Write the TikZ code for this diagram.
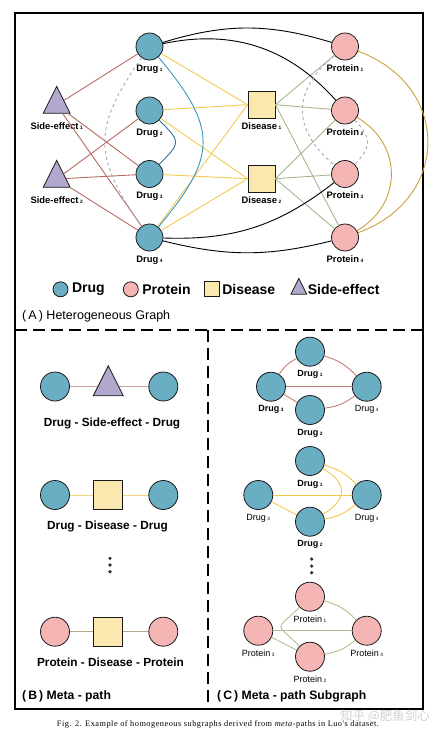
\documentclass[tikz,border=0pt]{standalone}
\usepackage{fontspec}
\setsansfont{Liberation Sans}
\newfontfamily\capfont[LetterSpace=6]{Liberation Serif}
\newfontfamily\cjkfont{Noto Sans CJK SC}
\usetikzlibrary{shapes.geometric,positioning}
\definecolor{drugC}{HTML}{6AAEC3}
\definecolor{protC}{HTML}{F5B5B4}
\definecolor{disC}{HTML}{FBE8AE}
\definecolor{seC}{HTML}{B2A7CC}
\definecolor{seE}{HTML}{B86A62}
\definecolor{ddE}{HTML}{F1CA50}
\definecolor{dpE}{HTML}{A9B48E}
\definecolor{bluE}{HTML}{3A98C0}
\definecolor{bluE2}{HTML}{2E7394}
\definecolor{gldE}{HTML}{C9A23C}
\definecolor{dshE}{HTML}{A6A8B8}
\definecolor{mpA}{HTML}{D0A29A}
\definecolor{mpB}{HTML}{F2D27A}
\definecolor{mpC}{HTML}{B5A985}
\definecolor{sgA}{HTML}{C47E7A}
\definecolor{sgB}{HTML}{EFC94C}
\definecolor{sgC}{HTML}{B2BE90}
\newcommand{\idx}[1]{\,{\fontsize{4.8}{5}\selectfont #1}}
\tikzset{
  drug/.style={circle,draw=black!90,fill=drugC,line width=0.8pt,minimum size=27pt,inner sep=0pt},
  prot/.style={drug,fill=protC},
  dis/.style={rectangle,draw=black!90,fill=disC,line width=0.8pt,minimum size=27pt,inner sep=0pt},
  se/.style={isosceles triangle,isosceles triangle stretches,shape border rotate=90,
    minimum width=27pt,minimum height=27pt,inner sep=0pt,draw=black!90,fill=seC,line width=0.8pt},
  mdrug/.style={drug,minimum size=29pt},
  mprot/.style={prot,minimum size=29pt},
  mdis/.style={dis,minimum size=29pt},
  mse/.style={se,minimum width=30pt,minimum height=30pt},
  lbl/.style={font=\sffamily\bfseries\fontsize{9.4}{10}\selectfont,inner sep=1pt},
  slbl/.style={font=\sffamily\bfseries\fontsize{9}{10}\selectfont,inner sep=1pt},
  rlbl/.style={font=\sffamily\fontsize{9}{10}\selectfont,inner sep=1pt},
  key/.style={font=\sffamily\bfseries\fontsize{14}{14}\selectfont,inner sep=0pt},
  mp/.style={font=\sffamily\bfseries\fontsize{11.8}{12}\selectfont,inner sep=0pt},
  ttl/.style={font=\sffamily\bfseries\fontsize{12.2}{13}\selectfont,inner sep=0pt,anchor=west},
  sep/.style={line width=2pt,dash pattern=on 11.5pt off 6.5pt},
  edge/.style={line width=0.9pt},
}

\begin{document}
\begin{tikzpicture}[x=1pt,y=1pt,label distance=3pt]
\useasboundingbox (0,0) rectangle (445,-737);
% frame
\draw[line width=2pt] (15,-12.7) rectangle (422.7,-708.5);
\draw[sep] (15,-330) -- (422.7,-330);
\draw[sep] (207.5,-330) -- (207.5,-708.5);

% (A) heterogeneous graph
\node[drug,label={[lbl]below:Drug\idx1}] (d1) at (149.5,-46.5) {};
\node[drug,label={[lbl]below:Drug\idx2}] (d2) at (149.5,-110.5) {};
\node[drug,label={[lbl]below:Drug\idx3}] (d3) at (149.5,-174) {};
\node[drug,label={[lbl]below:Drug\idx4}] (d4) at (149.5,-237.5) {};
\node[se,label={[lbl,label distance=8pt]below:Side-effect\idx1}] (s1) at (56.7,-105) {};
\node[se,label={[lbl,label distance=8pt]below:Side-effect\idx2}] (s2) at (56.7,-179) {};
\node[dis,label={[lbl]below:Disease\idx1}] (ds1) at (261.5,-104.7) {};
\node[dis,label={[lbl]below:Disease\idx2}] (ds2) at (261.5,-178.7) {};
\node[prot,label={[lbl]below:Protein\idx1}] (p1) at (345,-46.5) {};
\node[prot,label={[lbl]below:Protein\idx2}] (p2) at (345,-110.5) {};
\node[prot,label={[lbl]below:Protein\idx3}] (p3) at (345,-174) {};
\node[prot,label={[lbl]below:Protein\idx4}] (p4) at (345,-237.5) {};

\foreach \a/\b in {s1/d1,s1/d3,s1/d4,s2/d2,s2/d3,s2/d4}
  \draw[edge,seE] (\a) -- (\b);
\foreach \a/\b in {d1/ds1,d2/ds1,d2/ds2,d3/ds2,d4/ds1,d4/ds2}
  \draw[edge,ddE] (\a) -- (\b.west);
\foreach \a/\b in {ds1/p1,ds1/p2,ds1/p4,ds2/p2,ds2/p3,ds2/p4}
  \draw[edge,dpE] (\a.east) -- (\b);
\draw[edge] (d1) to[bend left=17] (p1);
\draw[edge] (d1) to[bend left=30] (p2);
\draw[edge] (d4) to[bend right=20] (p3);
\draw[edge] (d4) to[bend right=14] (p4);
\draw[edge,bluE] (d1) to[out=-50,in=50,looseness=1.4] (d4);
\draw[edge,bluE2] (d2) to[out=-45,in=45,looseness=1.8] (d3);
\draw[edge,dshE,dashed] (d1) to[out=235,in=125,looseness=1.3] (d4);
\draw[edge,gldE] (p1) to[out=-20,in=20,looseness=1.4] (p4);
\draw[edge,gldE] (p2) to[out=-30,in=30,looseness=1.2] (p4);
\draw[edge,dshE,dashed] (p1) to[out=220,in=140,looseness=1.3] (p3);
\draw[edge,dshE,dashed] (p2) to[out=-45,in=45,looseness=1.4] (p3);

% legend
\node[drug,minimum size=15pt] (kd) at (60.5,-289.3) {};
\node[key,right=3.5pt of kd] (kdt) {Drug};
\node[prot,minimum size=15pt] (kp) at (130.8,-289.3) {};
\node[key,right=3.5pt of kp] (kpt) {Protein};
\node[dis,minimum size=15pt] (kds) at (211.7,-289.3) {};
\node[key,right=2.5pt of kds] (kdst) {Disease};
\node[se,minimum width=15.7pt,minimum height=15.7pt] (ks) at (298.8,-289.3) {};
\node[key,right=3pt of ks] (kst) {Side-effect};
\node[ttl,font=\sffamily\fontsize{12.5}{13}\selectfont] (ta) at (22,-316.7) {(\,A\,)\ Heterogeneous Graph};

% (B) meta-path
\node[mdrug] (b1a) at (55,-386.5) {};
\node[mse] (b1b) at (108.3,-386.5) {};
\node[mdrug] (b1c) at (163.3,-386.5) {};
\draw[edge,mpA] (b1a) -- (b1b) -- (b1c);
\node[mp] (b1t) at (112,-423.3) {Drug - Side-effect - Drug};
\node[mdrug] (b2a) at (55,-495) {};
\node[mdis] (b2b) at (108.3,-495) {};
\node[mdrug] (b2c) at (163.3,-495) {};
\draw[edge,mpB] (b2a) -- (b2b) -- (b2c);
\node[mp] (b2t) at (107.5,-526.7) {Drug - Disease - Drug};
\foreach \y in {558.3,565,571.7}
  \fill[black!80] (110,-\y) circle (1.8pt);
\node[mprot] (b3a) at (55,-631.7) {};
\node[mdis] (b3b) at (108.3,-631.7) {};
\node[mprot] (b3c) at (163.3,-631.7) {};
\draw[edge,mpC] (b3a) -- (b3b) -- (b3c);
\node[mp] (b3t) at (110.5,-662.7) {Protein - Disease - Protein};
\node[ttl] (tb) at (22,-696.7) {(\,B\,)\ Meta - path};

% (C) meta-path subgraph
\node[mdrug,label={[slbl]below:Drug\idx1}] (c1d1) at (310,-351.7) {};
\node[mdrug,label={[slbl]below:Drug\idx3}] (c1d3) at (271,-386.7) {};
\node[mdrug,label={[rlbl]below:Drug\idx4}] (c1d4) at (366.7,-386.7) {};
\node[mdrug,label={[slbl]below:Drug\idx2}] (c1d2) at (310,-410) {};
\draw[edge,sgA] (c1d1) to[bend right=15] (c1d3);
\draw[edge,sgA] (c1d1) to[bend left=15] (c1d4);
\draw[edge,sgA] (c1d3) -- (c1d4);
\draw[edge,sgA] (c1d3) -- (c1d2);
\draw[edge,sgA] (c1d2) to[bend right=15] (c1d4);

\node[mdrug,label={[slbl]below:Drug\idx1}] (c2d1) at (310,-461) {};
\node[mdrug,label={[rlbl]below:Drug\idx3}] (c2d3) at (258.3,-495) {};
\node[mdrug,label={[rlbl]below:Drug\idx4}] (c2d4) at (366.7,-495) {};
\node[mdrug,label={[slbl]below:Drug\idx2}] (c2d2) at (310,-521.7) {};
\draw[edge,sgB] (c2d1) to[bend left=15] (c2d4);
\draw[edge,sgB] (c2d1) to[out=-30,in=30,looseness=1.6] (c2d2);
\draw[edge,sgB] (c2d3) -- (c2d4);
\draw[edge,sgB] (c2d3) -- (c2d2);
\draw[edge,sgB] (c2d2) to[bend right=15] (c2d4);
\foreach \y in {559,566,572.7}
  \fill[black!80] (311.7,-\y) circle (1.8pt);

\node[mprot,label={[rlbl]below:Protein\idx1}] (c3p1) at (310,-596.7) {};
\node[mprot,label={[rlbl]below:Protein\idx3}] (c3p3) at (258.3,-630.7) {};
\node[mprot,label={[rlbl]below:Protein\idx4}] (c3p4) at (366.7,-630.7) {};
\node[mprot,label={[rlbl]below:Protein\idx2}] (c3p2) at (310,-656.7) {};
\draw[edge,sgC] (c3p1) to[bend left=15] (c3p4);
\draw[edge,sgC] (c3p1) to[out=225,in=135,looseness=2.3] (c3p2);
\draw[edge,sgC] (c3p3) -- (c3p4);
\draw[edge,sgC] (c3p3) -- (c3p2);
\draw[edge,sgC] (c3p2) to[bend right=15] (c3p4);
\node[ttl] (tc) at (217,-696.7) {(\,C\,)\ Meta - path Subgraph};

% caption and mark
\node[font=\capfont\fontsize{8.3}{9}\selectfont,inner sep=0pt] (cp) at (218,-724.3)
  {Fig. 2. Example of homogeneous subgraphs derived from \textit{meta}-paths in Luo's dataset.};
\node[font=\cjkfont\fontsize{12.5}{13}\selectfont,text=gray!45,opacity=0.8,inner sep=0pt] (wm) at (385,-716.5) {知乎 @肥鱼剑心};
\end{tikzpicture}
\end{document}
